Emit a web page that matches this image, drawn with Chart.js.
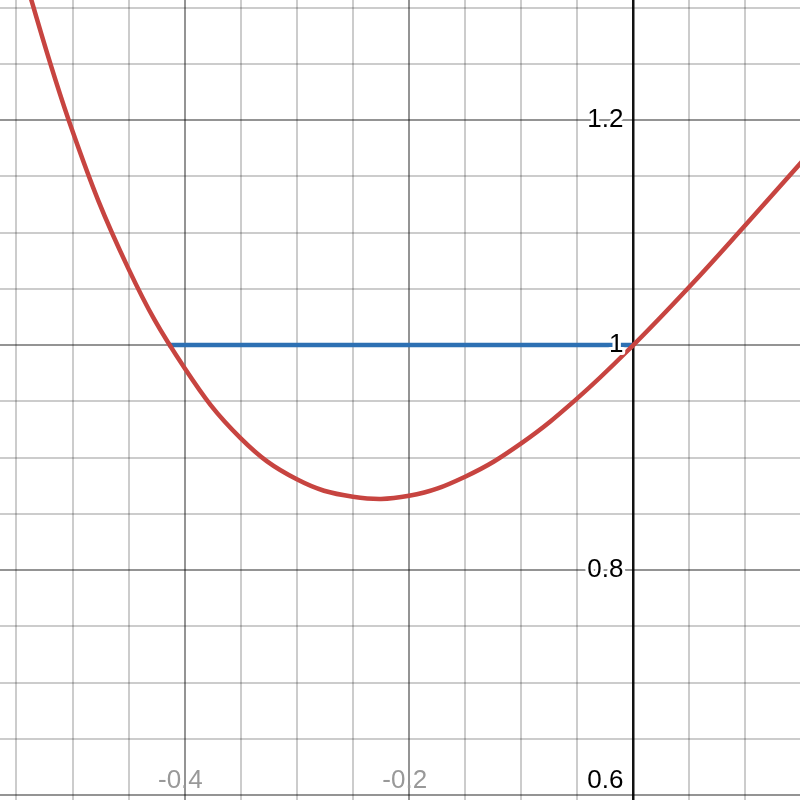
<!DOCTYPE html>
<html><head><meta charset="utf-8">
<script src="https://cdn.jsdelivr.net/npm/chart.js@4.4.1/dist/chart.umd.min.js"></script>
<style>html,body{margin:0;padding:0;background:#fff;overflow:hidden}#wrap{width:800px;height:800px;position:relative}</style>
</head><body><div id="wrap"><canvas id="c"></canvas></div>
<script>
const curveX = [-0.55, -0.5, -0.45, -0.4, -0.35, -0.3, -0.25, -0.2, -0.15, -0.1, -0.05, 0, 0.05, 0.1, 0.15];
const curveY = [1.3505, 1.190, 1.0675, 0.9793, 0.917, 0.8806, 0.8652, 0.866, 0.883, 0.9126, 0.9526, 1.0, 1.0518, 1.1067, 1.1626];
// Blue horizontal segment
const segmentX = [-0.415, 0];
const segmentY = [1, 1];
// Tick labels
const xTickValues = [-0.4, -0.2];
const xTickLabels = ['-0.4', '-0.2'];
const yTickValues = [0.6, 0.8, 1, 1.2];
const yTickLabels = ['0.6', '0.8', '1', '1.2'];
// Visible window
const xRange = [-0.5647, 0.1486];
const yRange = [0.5956, 1.3067];
const gridStep = 0.05;
const majorStep = 0.2;

const toPts = (xs, ys) => xs.map((x, i) => ({x, y: ys[i]}));
const isMajor = v => Math.abs(v / majorStep - Math.round(v / majorStep)) < 1e-6;
const gridColor = c => {
  const v = c.tick ? c.tick.value : 1;
  if (Math.abs(v) < 1e-9) return '#111';
  return isMajor(v) ? 'rgba(0,0,0,0.42)' : 'rgba(0,0,0,0.2)';
};
const gridWidth = c => {
  const v = c.tick ? c.tick.value : 1;
  if (Math.abs(v) < 1e-9) return 2.5;
  return 2;
};

const labelPlugin = {
  id: 'desmosLabels',
  afterDraw(chart) {
    const {ctx, scales: {x, y}, chartArea} = chart;
    ctx.save();
    ctx.font = '26px "Liberation Sans", Arial, sans-serif';
    ctx.textBaseline = 'alphabetic';
    ctx.lineJoin = 'round';
    const bottomBase = chartArea.bottom - 12;
    const ax = x.getPixelForValue(0);
    ctx.textAlign = 'right';
    ctx.fillStyle = '#000';
    ctx.strokeStyle = '#fff';
    ctx.lineWidth = 6;
    yTickValues.forEach((v, i) => {
      const b = Math.min(y.getPixelForValue(v) + 7, bottomBase);
      ctx.strokeText(yTickLabels[i], ax - 10, b);
      ctx.fillText(yTickLabels[i], ax - 10, b);
    });
    ctx.fillStyle = '#999';
    xTickValues.forEach((v, i) => {
      const px = x.getPixelForValue(v);
      const lab = xTickLabels[i];
      const w = ctx.measureText(lab.replace('-', '')).width;
      ctx.fillText(lab, px + w / 2, bottomBase);
    });
    ctx.restore();
  }
};

new Chart(document.getElementById('c'), {
  type: 'scatter',
  data: {
    datasets: [
      {data: toPts(curveX, curveY), showLine: true, borderColor: '#c74440', borderWidth: 4.5,
       pointRadius: 0, tension: 0.4, borderCapStyle: 'round', borderJoinStyle: 'round', order: 1},
      {data: toPts(segmentX, segmentY), showLine: true, borderColor: '#2d70b3', borderWidth: 4.5,
       pointRadius: 0, borderCapStyle: 'butt', order: 2}
    ]
  },
  options: {
    responsive: true, maintainAspectRatio: false, animation: false,
    layout: {padding: 0},
    plugins: {legend: {display: false}, tooltip: {enabled: false}},
    events: [],
    scales: {
      x: {type: 'linear', min: xRange[0], max: xRange[1],
          ticks: {display: false, stepSize: gridStep, includeBounds: false, maxTicksLimit: 200},
          grid: {drawTicks: false, color: gridColor, lineWidth: gridWidth},
          border: {display: false}},
      y: {type: 'linear', min: yRange[0], max: yRange[1],
          ticks: {display: false, stepSize: gridStep, includeBounds: false, maxTicksLimit: 200},
          grid: {drawTicks: false, color: gridColor, lineWidth: gridWidth},
          border: {display: false}}
    }
  },
  plugins: [labelPlugin]
});
</script>
</body></html>
